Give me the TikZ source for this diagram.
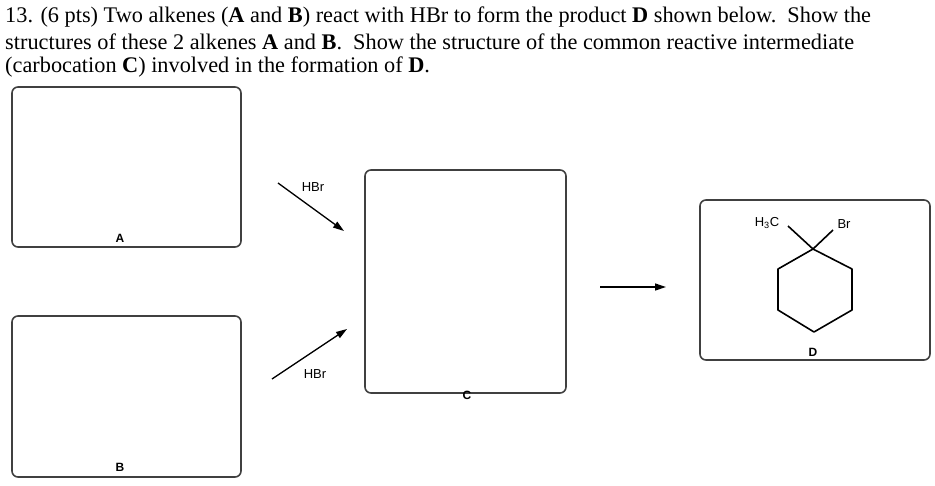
\documentclass[tikz,border=0pt]{standalone}
\usepackage{fontspec}
\setmainfont{Liberation Serif}
\newfontfamily\arial{Liberation Sans}
\usetikzlibrary{arrows.meta}
\begin{document}
\begin{tikzpicture}[x=1pt,y=-1pt,
  box/.style={draw=black!75,line width=1.6pt,rounded corners=6pt},
  lab/.style={font=\arial\fontsize{13}{15}\selectfont,inner sep=0.5pt},
  blab/.style={font=\arial\bfseries\fontsize{12}{14}\selectfont,inner sep=0.5pt},
  title/.style={font=\fontsize{22.3}{24}\selectfont,anchor=west,inner sep=0pt},
  rx/.style={-{Triangle[length=11pt,width=7pt]},line width=1.3pt},
  bond/.style={line width=1.6pt,line join=round}]
\useasboundingbox (0,0) rectangle (935,485);
\node[title] (t1) at (5,17) {13. (6 pts) Two alkenes (\textbf{A} and \textbf{B}) react with HBr to form the product \textbf{D} shown below.\ \ Show the};
\node[title] (t2) at (5,42) {structures of these 2 alkenes \textbf{A} and \textbf{B}.\ \ Show the structure of the common reactive intermediate};
\node[title] (t3) at (5,67) {(carbocation \textbf{C}) involved in the formation of \textbf{D}.};
\draw[box] (12,87) rectangle (241,247);
\draw[box] (12,316) rectangle (241,477);
\draw[box] (365,170) rectangle (566,393);
\draw[box] (700,200) rectangle (930,360);
\node[blab] (la) at (120,238) {A};
\node[blab] (lb) at (120,467) {B};
\node[blab] (lc) at (467,395) {C};
\node[blab] (ld) at (813,352) {D};
\coordinate (a1s) at (278,183); \coordinate (a1e) at (344,231);
\coordinate (a2s) at (272,379); \coordinate (a2e) at (347,329);
\coordinate (a3s) at (600,287); \coordinate (a3e) at (666,287);
\draw[rx] (a1s) -- (a1e);
\draw[rx] (a2s) -- (a2e);
\draw[rx] (a3s) -- (a3e);
\node[lab] (h1) at (313,187) {HBr};
\node[lab] (h2) at (315,374) {HBr};
\coordinate (v1) at (813,249); \coordinate (v2) at (852,269); \coordinate (v3) at (852,310);
\coordinate (v4) at (814,332); \coordinate (v5) at (778,310); \coordinate (v6) at (778,269);
\draw[bond] (v1)--(v2)--(v3)--(v4)--(v5)--(v6)--cycle;
\node[lab] (me) at (767,223) {H\textsubscript{3}C};
\node[lab] (br) at (844,224) {Br};
\draw[bond] (v1) -- (788,226);
\draw[bond] (v1) -- (833,230);
\end{tikzpicture}
\end{document}
